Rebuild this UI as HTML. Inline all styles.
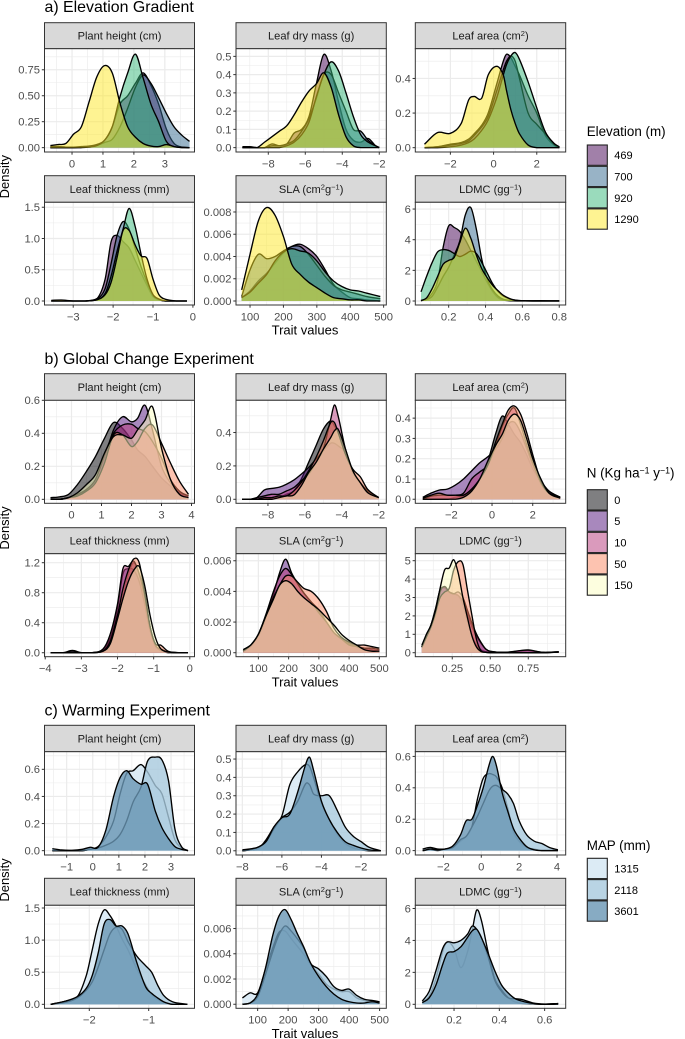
<!DOCTYPE html>
<html>
<head>
<meta charset="utf-8">
<title>Trait density panels</title>
<style>
html,body{margin:0;padding:0;background:#fff}
svg{display:block;font-family:"Liberation Sans",sans-serif}
</style>
</head>
<body>
<svg id="chart" xmlns="http://www.w3.org/2000/svg" width="685" height="1039" viewBox="0 0 685 1039"></svg>
<script>
// ---------- a) Elevation Gradient ----------
const aHeightX=[-0.7,-0.45,-0.2,0.05,0.3,0.55,0.8,1.05,1.3,1.55,1.8,2.05,2.3,2.55,2.8,3.05,3.3,3.55,3.8];
const aHeight469=[.01,.01,.005,.005,.01,.015,.03,.07,.2,.42,.5,.62,.72,.6,.42,.18,.04,.005,0];
const aHeight700=[0,0,0,0,.005,.01,.02,.05,.08,.2,.38,.58,.7,.62,.48,.33,.2,.12,.06];
const aHeight920=[0,0,0,0,0,.005,.02,.07,.2,.49,.72,.9,.67,.42,.25,.06,.01,.005,0];
const aHeight1290=[.02,.03,.04,.13,.2,.44,.68,.79,.72,.43,.2,.1,.04,.015,.01,.03,.01,0,0];

const aMassX=[-9.4,-9,-8.6,-8.2,-7.8,-7.4,-7,-6.6,-6.2,-5.8,-5.4,-5,-4.6,-4.2,-3.8,-3.4,-3,-2.6,-2.2,-2];
const aMass469=[.005,.005,0,0,.02,.01,.02,.08,.1,.17,.35,.51,.42,.25,.1,.04,.03,.05,.01,0];
const aMass700=[0,0,0,0,.01,.01,.02,.04,.09,.16,.27,.4,.4,.3,.2,.1,.09,.04,.01,0];
const aMass920=[0,0,0,0,0,0,.01,.03,.07,.14,.28,.4,.47,.42,.3,.17,.07,.03,.01,0];
const aMass1290=[0,0,0,.03,.06,.09,.12,.18,.25,.31,.35,.41,.33,.18,.06,.01,0,0,0,0];

const aAreaX=[-3.2,-2.6,-2,-1.5,-1.15,-.9,-.55,-.25,.15,.45,.6,.8,1,1.2,1.6,2,2.4,2.8,3.05];
const aArea469=[0,.005,.02,.03,.05,.08,.13,.2,.37,.5,.54,.52,.47,.42,.3,.2,.07,.015,0];
const aArea700=[0,.005,.015,.025,.04,.07,.12,.18,.33,.45,.5,.53,.5,.4,.2,.135,.08,.02,0];
const aArea920=[0,0,.005,.015,.03,.05,.1,.16,.29,.42,.48,.53,.55,.51,.38,.23,.09,.025,.005];
const aArea1290=[.02,.087,.083,.14,.277,.296,.286,.42,.47,.42,.33,.22,.14,.08,.015,0,0,0,0];

const aThickX=[-3.55,-3.3,-3,-2.7,-2.4,-2.2,-2.05,-1.9,-1.75,-1.6,-1.45,-1.3,-1.15,-1,-.85,-.7,-.4,-.15];
const aThick469=[0,0,0,0,.04,.35,.95,1.05,.95,.85,.65,.45,.25,.07,.02,0,0,0];
const aThick700=[0,0,0,0,.03,.2,.6,1.05,1.27,1.15,.85,.55,.3,.1,.03,0,0,0];
const aThick920=[0,0,0,0,.02,.12,.4,.8,1.15,1.48,1.2,.75,.35,.1,.03,0,0,0];
const aThick1290=[.01,.015,0,0,.02,.1,.3,.7,1.13,1.13,.9,.72,.68,.35,.1,.03,0,0];

const aSlaX=[75,100,125,150,175,200,225,250,275,300,325,350,375,400,425,450,490];
const aSla469=[.0003,.0009,.0018,.0025,.0034,.0043,.0049,.0051,.0047,.004,.0028,.0015,.0008,.0003,.0002,.0001,0];
const aSla700=[.0004,.0028,.0042,.0038,.004,.0045,.0049,.0049,.0042,.0032,.0022,.0014,.001,.0008,.0006,.0004,.0002];
const aSla920=[.0003,.0008,.0016,.0024,.0036,.0044,.0047,.0045,.0043,.0036,.0026,.0018,.0013,.001,.0009,.0007,.0004];
const aSla1290=[.001,.0042,.0072,.0084,.0077,.0058,.0033,.0024,.0017,.0012,.0007,.0003,.0002,.0001,.0001,0,0];

const aLdmcX=[.05,.08,.11,.14,.17,.2,.23,.26,.29,.32,.35,.38,.41,.44,.47,.5,.55,.6,.7,.8];
const aLdmc469=[.05,.15,.5,1.3,3.5,4.9,4.8,4.55,4,3.3,2.6,1.9,1.2,.6,.2,.05,.01,0,0,0];
const aLdmc700=[.02,.1,.3,.9,1.6,2.2,3,3.9,5.6,6.1,4.7,2.7,1.4,.7,.3,.1,.03,.01,.02,.01];
const aLdmc920=[.6,1.6,2.5,3.2,3.35,3.3,3.1,2.9,3.05,3.25,3.1,2.5,1.8,1.1,.6,.3,.08,.02,0,0];
const aLdmc1290=[.02,.2,.8,1.6,2.4,2.65,2.85,3.8,4.75,4.1,3,2.1,1.5,1,.65,.35,.08,.02,0,0];

// ---------- b) Global Change Experiment ----------
const bHeightX=[-.7,-.4,-.1,.2,.5,.8,1.1,1.4,1.7,2,2.2,2.45,2.7,3,3.3,3.6,3.9];
const bHeight0=[.01,.015,.03,.09,.17,.26,.37,.465,.43,.36,.3,.26,.2,.13,.08,.03,.01];
const bHeight5=[0,0,.01,.03,.06,.12,.25,.42,.5,.47,.49,.57,.42,.2,.1,.04,.02];
const bHeight10=[0,0,.01,.03,.06,.12,.27,.4,.45,.455,.43,.41,.35,.25,.12,.05,.02];
const bHeight50=[0,0,.01,.02,.05,.1,.22,.39,.39,.32,.35,.43,.45,.34,.22,.11,.03];
const bHeight150=[0,0,.01,.04,.09,.15,.28,.38,.39,.37,.42,.48,.56,.31,.12,.03,.01];

const bMassX=[-9.4,-9,-8.6,-8.2,-7.8,-7.4,-7,-6.6,-6.2,-5.8,-5.4,-5,-4.6,-4.4,-4.2,-3.8,-3.4,-3,-2.6,-2];
const bMass0=[0,0,0,0,.01,.01,.03,.05,.12,.22,.32,.42,.47,.44,.4,.28,.16,.1,.04,.01];
const bMass5=[0,0,.01,.055,.065,.072,.09,.115,.15,.19,.24,.29,.336,.335,.32,.28,.16,.1,.05,.01];
const bMass10=[0,0,.01,.02,.03,.03,.05,.07,.11,.15,.22,.3,.48,.565,.5,.3,.17,.1,.05,.01];
const bMass50=[0,0,0,.01,.01,.02,.02,.05,.1,.17,.25,.35,.46,.46,.4,.27,.18,.135,.06,.01];
const bMass150=[0,0,0,0,0,.01,.02,.025,.08,.16,.22,.3,.37,.41,.42,.3,.17,.1,.04,.01];

const bAreaX=[-3.4,-3,-2.6,-2.2,-1.8,-1.4,-1,-.6,-.2,.2,.5,.8,1.1,1.4,1.7,2,2.4,2.8,3.35];
const bArea0=[0,0,0,0,.01,.02,.05,.1,.19,.33,.41,.37,.32,.28,.22,.15,.09,.04,.01];
const bArea5=[.01,.03,.045,.05,.07,.1,.14,.18,.21,.25,.3,.37,.38,.33,.25,.17,.09,.04,.01];
const bArea10=[0,.015,.02,.02,.02,.03,.1,.135,.17,.27,.36,.42,.45,.37,.27,.18,.08,.03,.01];
const bArea50=[.005,.02,.03,.02,.02,.02,.05,.1,.17,.29,.37,.44,.46,.42,.33,.22,.09,.03,.01];
const bArea150=[0,0,0,0,0,.01,.04,.1,.19,.27,.32,.39,.42,.39,.3,.2,.1,.03,.005];

const bThickX=[-3.85,-3.5,-3.25,-3,-2.7,-2.4,-2.2,-2,-1.85,-1.7,-1.55,-1.4,-1.25,-1.1,-.95,-.8,-.6,-.3,-.05];
const bThick0=[0,0,0,0,0,.03,.2,.5,.75,1.05,1.2,1.05,.8,.35,.1,.03,0,0,0];
const bThick5=[0,0,.03,0,0,.02,.18,.6,1.05,1.12,1.1,.95,.65,.3,.09,.03,.01,0,0];
const bThick10=[0,0,.01,0,0,.05,.25,.65,1.12,1.15,1.22,1.05,.75,.35,.1,.05,.01,0,0];
const bThick50=[0,0,.005,0,0,.02,.15,.5,.85,1.1,1.25,1.2,.8,.35,.12,.1,.02,0,0];
const bThick150=[0,0,0,0,0,.02,.12,.45,.72,.95,1.1,1.15,.9,.5,.2,.05,.01,0,0];

const bSlaX=[50,75,100,125,150,170,190,210,230,250,275,300,325,350,375,400,425,450,475,500];
const bSla0=[.0001,.0004,.0012,.0024,.0035,.0044,.0047,.0044,.004,.0036,.0032,.0027,.002,.0013,.0009,.0006,.0004,.0003,.0002,.0001];
const bSla5=[.0002,.0005,.0011,.0023,.0038,.0052,.0061,.0052,.0045,.0039,.0033,.0028,.002,.0013,.0009,.0006,.0004,.0002,.0001,.0001];
const bSla10=[.0001,.0005,.0012,.0025,.004,.005,.0055,.0051,.0045,.0039,.0033,.0026,.002,.0013,.0009,.0005,.0004,.0003,.0003,.0002];
const bSla50=[.0001,.0005,.0012,.0024,.0036,.0044,.005,.005,.0046,.0042,.004,.0035,.0027,.0016,.001,.0007,.0005,.0005,.0004,.0003];
const bSla150=[.0002,.0005,.0012,.0024,.0035,.0044,.0047,.0045,.004,.0036,.0032,.0028,.0023,.0018,.0012,.0008,.0005,.0002,.0001,.0001];

const bLdmcX=[.05,.08,.11,.14,.17,.2,.23,.26,.29,.32,.35,.38,.41,.44,.47,.5,.6,.7,.75,.85,.95];
const bLdmc0=[.3,.9,1.5,2.4,3.4,3.5,3.3,3.2,3.1,2.6,1.7,.9,.4,.15,.05,.02,.01,0,0,0,.05];
const bLdmc5=[.3,.9,1.5,2.3,3.4,3.55,3.3,3.2,3.1,2.8,2.1,1.4,.9,.5,.2,.07,.02,.1,.12,.02,.05];
const bLdmc10=[.3,.9,1.4,2.1,3.3,3.6,3.3,3.2,3.3,3,2.3,1.6,1,.55,.2,.08,.02,.12,.15,.02,.05];
const bLdmc50=[.3,.85,1.4,2.2,3,3.3,3.5,4.5,4.95,4.8,3.4,2,.7,.1,.02,0,0,0,0,0,.03];
const bLdmc150=[.4,1,1.5,2.3,3.5,4.5,4.6,5.05,4.3,3,1.9,.9,.3,.06,.02,0,0,0,0,0,.03];

// ---------- c) Warming Experiment ----------
const cHeightX=[-1.55,-1.2,-.8,-.4,-.1,.2,.5,.8,1.05,1.3,1.55,1.85,2.1,2.4,2.65,2.9,3.15,3.4,3.65];
const cHeight1315=[0,0,0,0,.01,.03,.1,.22,.42,.57,.59,.635,.58,.48,.42,.25,.08,.02,0];
const cHeight2118=[0,0,0,0,.01,.02,.04,.07,.12,.22,.36,.47,.66,.69,.67,.52,.16,.03,0];
const cHeight3601=[.015,.005,.003,.01,.025,.025,.15,.4,.54,.59,.53,.49,.49,.29,.17,.09,.03,.01,0];

const cMassX=[-8,-7.6,-7.2,-6.8,-6.4,-6,-5.6,-5.2,-4.8,-4.6,-4.4,-4,-3.6,-3.2,-2.8,-2.4,-2,-1.6,-1];
const cMass1315=[0,.005,.01,.06,.13,.19,.36,.43,.47,.46,.4,.26,.17,.09,.04,.015,.005,0,0];
const cMass2118=[0,.005,.02,.05,.12,.18,.21,.27,.365,.36,.31,.3,.3,.22,.13,.08,.05,.02,0];
const cMass3601=[.005,.01,.02,.05,.13,.18,.2,.32,.47,.51,.44,.27,.17,.1,.05,.03,.015,.005,0];

const cAreaX=[-3.1,-2.7,-2.3,-1.9,-1.5,-1.1,-.8,-.5,-.2,.1,.4,.6,.8,1.1,1.4,1.7,2,2.4,2.8,3.2,3.6,4.05];
const cArea1315=[0,.005,0,.01,.02,.06,.09,.15,.33,.46,.49,.485,.47,.4,.27,.12,.06,.02,.01,0,0,0];
const cArea2118=[.01,.02,.01,.01,.02,.07,.09,.15,.22,.3,.38,.41,.415,.39,.36,.3,.19,.1,.06,.045,.02,.005];
const cArea3601=[0,.01,.005,.01,.03,.1,.19,.2,.29,.4,.54,.6,.54,.37,.25,.14,.08,.025,.005,0,0,0];

const cThickX=[-2.65,-2.4,-2.2,-2.05,-1.95,-1.85,-1.75,-1.65,-1.55,-1.45,-1.35,-1.2,-1.05,-.95,-.85,-.75,-.6,-.35];
const cThick1315=[0,.05,.12,.45,.85,1.25,1.47,1.38,1.22,1.02,.85,.55,.3,.15,.08,.03,0,0];
const cThick2118=[0,.03,.1,.22,.35,.58,.85,1.1,1.2,1.17,.98,.75,.6,.5,.3,.14,.04,0];
const cThick3601=[0,.05,.12,.25,.45,.8,1.25,1.32,1.22,1.22,1.1,.65,.27,.17,.1,.04,0,0];

const cSlaX=[50,75,100,125,150,170,190,210,230,250,275,300,325,350,375,400,425,450,475,500];
const cSla1315=[.0005,.0009,.0009,.0027,.0045,.0057,.0058,.0052,.0046,.004,.0031,.0024,.0016,.0012,.001,.001,.0005,.0003,.0001,.0001];
const cSla2118=[0,.0001,.0006,.0023,.0042,.0055,.0062,.0058,.0052,.0045,.0032,.0028,.0022,.0014,.0011,.0012,.0007,.0004,.0003,.0002];
const cSla3601=[0,.0001,.0008,.0028,.0055,.007,.0075,.0067,.0056,.0046,.0032,.0022,.0014,.0008,.0004,.0002,.0001,.0001,.0002,.0001];

const cLdmcX=[.06,.09,.12,.15,.17,.2,.23,.26,.28,.3,.32,.35,.38,.41,.44,.47,.5,.55,.6,.66];
const cLdmc1315=[.1,.5,1.6,3.3,3.9,3.5,2.3,3.3,4.6,5.9,5.3,3.3,1.6,.9,.4,.15,.05,.02,0,0];
const cLdmc2118=[.2,.8,2.1,3.5,3.9,3.85,4,4.4,4.9,4.7,4.2,3,1.5,.8,.4,.35,.3,.08,.02,.05];
const cLdmc3601=[.1,.4,1.2,2.5,3.2,3.3,3.6,4.2,4.6,4.7,4.2,3.2,2.1,1.2,.7,.35,.2,.05,.01,.05];

// ---------- tick labels ----------
const aHeightXTicks=['0','1','2','3'], aHeightYTicks=['0.00','0.25','0.50','0.75'];
const aMassXTicks=['−8','−6','−4','−2'], aMassYTicks=['0.0','0.1','0.2','0.3','0.4','0.5'];
const aAreaXTicks=['−2','0','2'], aAreaYTicks=['0.0','0.2','0.4'];
const aThickXTicks=['−3','−2','−1','0'], aThickYTicks=['0.0','0.5','1.0','1.5'];
const aSlaXTicks=['100','200','300','400','500'], aSlaYTicks=['0.000','0.002','0.004','0.006','0.008'];
const aLdmcXTicks=['0.2','0.4','0.6','0.8'], aLdmcYTicks=['0','2','4','6'];
const bHeightXTicks=['0','1','2','3','4'], bHeightYTicks=['0.0','0.2','0.4','0.6'];
const bMassXTicks=['−8','−6','−4','−2'], bMassYTicks=['0.0','0.2','0.4'];
const bAreaXTicks=['−2','0','2'], bAreaYTicks=['0.0','0.1','0.2','0.3','0.4'];
const bThickXTicks=['−4','−3','−2','−1','0'], bThickYTicks=['0.0','0.4','0.8','1.2'];
const bSlaXTicks=['100','200','300','400','500'], bSlaYTicks=['0.000','0.002','0.004','0.006'];
const bLdmcXTicks=['0.25','0.50','0.75'], bLdmcYTicks=['0','1','2','3','4','5'];
const cHeightXTicks=['−1','0','1','2','3'], cHeightYTicks=['0.0','0.2','0.4','0.6'];
const cMassXTicks=['−8','−6','−4','−2'], cMassYTicks=['0.0','0.1','0.2','0.3','0.4','0.5'];
const cAreaXTicks=['−2','0','2','4'], cAreaYTicks=['0.0','0.2','0.4','0.6'];
const cThickXTicks=['−2','−1'], cThickYTicks=['0.0','0.5','1.0','1.5'];
const cSlaXTicks=['100','200','300','400','500'], cSlaYTicks=['0.000','0.002','0.004','0.006'];
const cLdmcXTicks=['0.2','0.4','0.6'], cLdmcYTicks=['0','2','4','6'];

// ---------- facet titles, legends ----------
const facetTitles=['Plant height (cm)','Leaf dry mass (g)','Leaf area (cm<tspan dy="-3.5" font-size="7.5">2</tspan><tspan dy="3.5">)</tspan>','Leaf thickness (mm)','SLA (cm<tspan dy="-3.5" font-size="7.5">2</tspan><tspan dy="3.5">g</tspan><tspan dy="-3.5" font-size="7.5">−1</tspan><tspan dy="3.5">)</tspan>','LDMC (gg<tspan dy="-3.5" font-size="7.5">−1</tspan><tspan dy="3.5">)</tspan>'];
const elevationLevels=['469','700','920','1290'];
const elevationColors=['#440154','#31688E','#35B779','#FDE725'];
const nitrogenLevels=['0','5','10','50','150'];
const nitrogenColors=['#000004','#51127C','#B63679','#FB8861','#FCFDBF'];
const mapLevels=['1315','2118','3601'];
const mapColors=['#D3E6F3','#A7C9DD','#6996B4'];

const sections=[
 {key:'a',title:'a) Elevation Gradient',titleY:12,legendTitle:'Elevation (m)',legendTitleY:136,legendY:145,levels:elevationLevels,colors:elevationColors,alpha:.5,
  rows:[[22.7,48.7,152],[175.7,202.3,305]],densityY:176.7,traitY:334.3,
  panels:[
   {x:aHeightX,s:[aHeight469,aHeight700,aHeight920,aHeight1290],xLim:[-.89,3.96],yLim:[-.042,.953],xt:aHeightXTicks,yt:aHeightYTicks},
   {x:aMassX,s:[aMass469,aMass700,aMass920,aMass1290],xLim:[-9.746,-1.62],yLim:[-.024,.542],xt:aMassXTicks,yt:aMassYTicks},
   {x:aAreaX,s:[aArea469,aArea700,aArea920,aArea1290],xLim:[-3.625,3.34],yLim:[-.025,.572],xt:aAreaXTicks,yt:aAreaYTicks},
   {x:aThickX,s:[aThick469,aThick700,aThick920,aThick1290],xLim:[-3.72,.04],yLim:[-.064,1.579],xt:aThickXTicks,yt:aThickYTicks},
   {x:aSlaX,s:[aSla469,aSla700,aSla920,aSla1290],xLim:[58,508],yLim:[-.00036,.00887],xt:aSlaXTicks,yt:aSlaYTicks},
   {x:aLdmcX,s:[aLdmc469,aLdmc700,aLdmc920,aLdmc1290],xLim:[.019,.835],yLim:[-.26,6.44],xt:aLdmcXTicks,yt:aLdmcYTicks}
  ]},
 {key:'b',title:'b) Global Change Experiment',titleY:364,legendTitle:'N (Kg ha<tspan dy="-4" font-size="8.8">−1</tspan><tspan dy="4"> y</tspan><tspan dy="-4" font-size="8.8">−1</tspan><tspan dy="4">)</tspan>',legendTitleY:477.7,legendY:489.7,levels:nitrogenLevels,colors:nitrogenColors,alpha:.5,
  rows:[[373.7,400.3,503.3],[527.7,553.7,656.7]],densityY:528,traitY:686.7,
  panels:[
   {x:bHeightX,s:[bHeight0,bHeight5,bHeight10,bHeight50,bHeight150],xLim:[-.9,4.1],yLim:[-.024,.6],xt:bHeightXTicks,yt:bHeightYTicks},
   {x:bMassX,s:[bMass0,bMass5,bMass10,bMass50,bMass150],xLim:[-9.73,-1.59],yLim:[-.024,.593],xt:bMassXTicks,yt:bMassYTicks},
   {x:bAreaX,s:[bArea0,bArea5,bArea10,bArea50,bArea150],xLim:[-3.77,3.62],yLim:[-.02,.488],xt:bAreaXTicks,yt:bAreaYTicks},
   {x:bThickX,s:[bThick0,bThick5,bThick10,bThick50,bThick150],xLim:[-4.02,.13],yLim:[-.053,1.32],xt:bThickXTicks,yt:bThickYTicks},
   {x:bSlaX,s:[bSla0,bSla5,bSla10,bSla50,bSla150],xLim:[26,523],yLim:[-.00026,.00646],xt:bSlaXTicks,yt:bSlaYTicks},
   {x:bLdmcX,s:[bLdmc0,bLdmc5,bLdmc10,bLdmc50,bLdmc150],xLim:[.007,.996],yLim:[-.217,5.38],xt:bLdmcXTicks,yt:bLdmcYTicks}
  ]},
 {key:'c',title:'c) Warming Experiment',titleY:715.7,legendTitle:'MAP (mm)',legendTitleY:850,legendY:858.3,levels:mapLevels,colors:mapColors,alpha:.8,
  rows:[[725.3,751.7,855],[878.3,905.3,1008.3]],densityY:880,traitY:1038,
  panels:[
   {x:cHeightX,s:[cHeight1315,cHeight2118,cHeight3601],xLim:[-1.85,3.9],yLim:[-.032,.73],xt:cHeightXTicks,yt:cHeightYTicks},
   {x:cMassX,s:[cMass1315,cMass2118,cMass3601],xLim:[-8.32,-.72],yLim:[-.023,.54],xt:cMassXTicks,yt:cMassYTicks},
   {x:cAreaX,s:[cArea1315,cArea2118,cArea3601],xLim:[-3.487,4.46],yLim:[-.028,.63],xt:cAreaXTicks,yt:cAreaYTicks},
   {x:cThickX,s:[cThick1315,cThick2118,cThick3601],xLim:[-2.754,-.229],yLim:[-.062,1.542],xt:cThickXTicks,yt:cThickYTicks},
   {x:cSlaX,s:[cSla1315,cSla2118,cSla3601],xLim:[29,522],yLim:[-.00032,.00784],xt:cSlaXTicks,yt:cSlaYTicks},
   {x:cLdmcX,s:[cLdmc1315,cLdmc2118,cLdmc3601],xLim:[.029,.693],yLim:[-.25,6.2],xt:cLdmcXTicks,yt:cLdmcYTicks}
  ]}
];

// ---------- layout ----------
const colEdges=[[44.5,194.5],[236,386.3],[415.3,565.7]];
const svg=document.getElementById('chart');
const NS='http://www.w3.org/2000/svg';
function mk(tag,attrs,parent){
  const e=document.createElementNS(NS,tag);
  for(const k in attrs)e.setAttribute(k,attrs[k]);
  parent.appendChild(e);
  return e;
}
function num(s){return Number(String(s).replace('−','-'));}
function linearScale(dom,rng){return v=>rng[0]+(v-dom[0])*(rng[1]-rng[0])/(dom[1]-dom[0]);}
function curve(xs,ys,sx,sy){
  const px=xs.map(sx),py=ys.map(v=>sy(Math.max(0,v)));
  const base=sy(0),n=px.length,m=[];
  for(let i=0;i<n;i++){
    const a=Math.max(0,i-1),b=Math.min(n-1,i+1);
    m[i]=(py[b]-py[a])/(px[b]-px[a]);
  }
  let d='M'+px[0].toFixed(2)+','+py[0].toFixed(2);
  for(let i=0;i<n-1;i++){
    const dx=(px[i+1]-px[i])/3;
    const c1=Math.min(base,py[i]+m[i]*dx),c2=Math.min(base,py[i+1]-m[i+1]*dx);
    d+='C'+(px[i]+dx).toFixed(2)+','+c1.toFixed(2)+' '+(px[i+1]-dx).toFixed(2)+','+c2.toFixed(2)+' '+px[i+1].toFixed(2)+','+py[i+1].toFixed(2);
  }
  return {line:d,area:d+'L'+px[n-1].toFixed(2)+','+base.toFixed(2)+'L'+px[0].toFixed(2)+','+base.toFixed(2)+'Z'};
}

sections.forEach(sec=>{
  const group=mk('g',{},svg);
  
  

  const title=mk('text',{x:44.5,y:sec.titleY,'font-size':15.9,fill:'#000'},group);
  
  
  title.textContent=sec.title;

  sec.panels.forEach((p,i)=>{
    const row=sec.rows[Math.floor(i/3)],col=colEdges[i%3];
    const L=col[0],R=col[1],stripTop=row[0],T=row[1],B=row[2];
    const sx=linearScale(p.xLim,[L,R]),sy=linearScale(p.yLim,[B,T]);
    const pg=mk('g',{},group);
    
    

    const strip=mk('rect',{x:L,y:stripTop,width:R-L,height:T-stripTop,fill:'#D9D9D9',stroke:'#333',"stroke-width":1},pg);
    
    
    const stripText=mk('text',{x:(L+R)/2,y:(stripTop+T)/2+3.9,'text-anchor':'middle','font-size':11.1,fill:'#1A1A1A'},pg);
    
    
    stripText.innerHTML=facetTitles[i];

    const bg=mk('rect',{x:L,y:T,width:R-L,height:B-T,fill:'#fff'},pg);
    
    

    const xv=p.xt.map(num),yv=p.yt.map(num);
    const xStep=xv.length>1?xv[1]-xv[0]:1,yStep=yv[1]-yv[0];
    for(let v=xv[0]-xStep/2;v<p.xLim[1];v+=xStep){
      if(v>p.xLim[0]){
        const g=mk('line',{x1:sx(v),x2:sx(v),y1:T,y2:B,stroke:'#EBEBEB','stroke-width':.6},pg);
        
        
      }
    }
    for(let v=yv[0]-yStep/2;v<p.yLim[1];v+=yStep){
      if(v>p.yLim[0]){
        const g=mk('line',{x1:L,x2:R,y1:sy(v),y2:sy(v),stroke:'#EBEBEB','stroke-width':.6},pg);
        
        
      }
    }
    xv.forEach((v,k)=>{
      const g=mk('line',{x1:sx(v),x2:sx(v),y1:T,y2:B,stroke:'#EBEBEB','stroke-width':1.2},pg);
      
      
      const t=mk('line',{x1:sx(v),x2:sx(v),y1:B,y2:B+2.7,stroke:'#333','stroke-width':1},pg);
      
      
      const l=mk('text',{x:sx(v),y:B+15.3,'text-anchor':'middle','font-size':11.2,fill:'#4D4D4D'},pg);
      
      
      l.textContent=p.xt[k];
    });
    yv.forEach((v,k)=>{
      const g=mk('line',{x1:L,x2:R,y1:sy(v),y2:sy(v),stroke:'#EBEBEB','stroke-width':1.2},pg);
      
      
      const t=mk('line',{x1:L-2.7,x2:L,y1:sy(v),y2:sy(v),stroke:'#333','stroke-width':1},pg);
      
      
      const l=mk('text',{x:L-4.5,y:sy(v)+3.9,'text-anchor':'end','font-size':11.2,fill:'#4D4D4D'},pg);
      
      
      l.textContent=p.yt[k];
    });

    p.s.forEach((ys,k)=>{
      const c=curve(p.x,ys,sx,sy);
      const a=mk('path',{d:c.area,fill:sec.colors[k],'fill-opacity':sec.alpha,stroke:'none'},pg);
      
      
      const ln=mk('path',{d:c.line,fill:'none',stroke:'#000','stroke-width':1.35,'stroke-linejoin':'round'},pg);
      
      
    });

    const border=mk('rect',{x:L,y:T,width:R-L,height:B-T,fill:'none',stroke:'#333','stroke-width':1},pg);
    
    
  });

  const dens=mk('text',{x:0,y:0,transform:'translate(9,'+sec.densityY+') rotate(-90)','text-anchor':'middle','font-size':13,fill:'#000'},group);
  
  
  dens.textContent='Density';

  const trait=mk('text',{x:305,y:sec.traitY,'text-anchor':'middle','font-size':13,fill:'#000'},group);
  
  
  trait.textContent='Trait values';

  const leg=mk('g',{},group);
  
  
  const lt=mk('text',{x:586.7,y:sec.legendTitleY,'font-size':13.4,fill:'#000'},leg);
  
  
  lt.innerHTML=sec.legendTitle;
  sec.levels.forEach((lv,k)=>{
    const y=sec.legendY+k*21.3;
    const sw0=mk('rect',{x:587.3,y:y,width:20,height:20.3,fill:'#fff'},leg);
    
    
    const sw=mk('rect',{x:587.3,y:y,width:20,height:20.3,fill:sec.colors[k],'fill-opacity':sec.alpha,stroke:'#222','stroke-width':1.1},leg);
    
    
    const tx=mk('text',{x:614.3,y:y+14.2,'font-size':11,fill:'#000'},leg);
    
    
    tx.textContent=lv;
  });
});
</script>
</body>
</html>
